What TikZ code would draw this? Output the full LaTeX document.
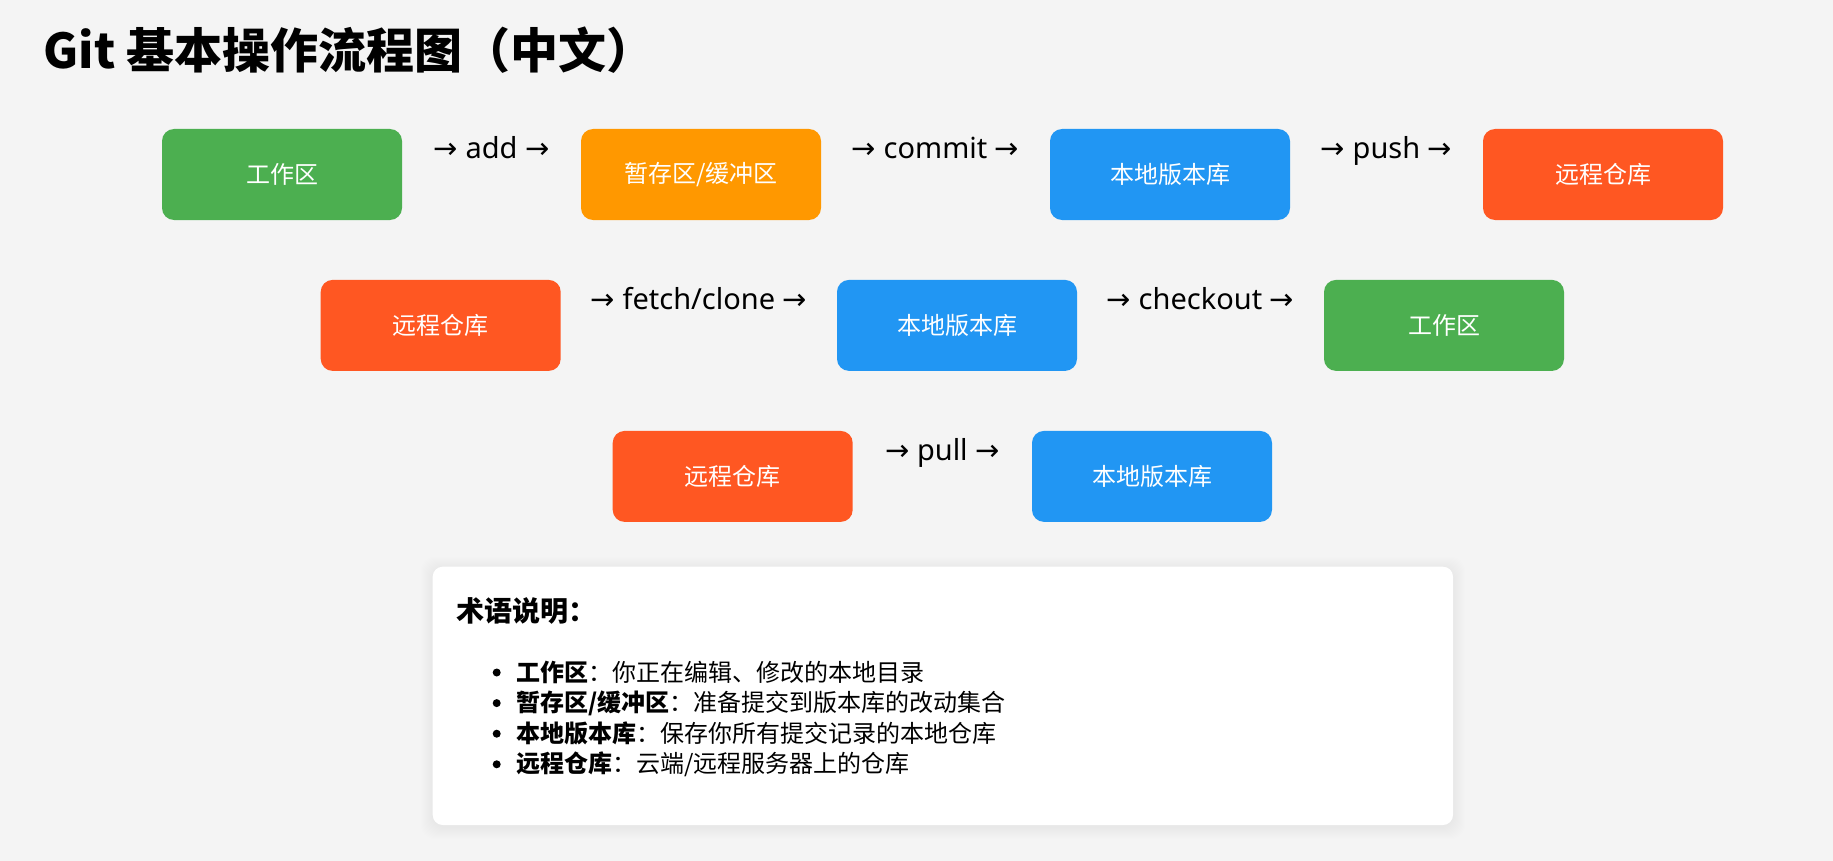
\documentclass[tikz,border=0pt]{standalone}
\usepackage{fontspec}
\setmainfont{Noto Sans CJK SC}
\newfontfamily\latfont{Noto Sans}
\newfontfamily\symfont{DejaVu Sans}
\usepackage{xcolor}
\usetikzlibrary{calc}
\definecolor{pagebg}{HTML}{F4F4F4}
\definecolor{wdgreen}{HTML}{4CAF50}
\definecolor{stgorange}{HTML}{FF9800}
\definecolor{localblue}{HTML}{2196F3}
\definecolor{remotered}{HTML}{FF5722}
\newcommand{\opto}{{\symfont →}}
\tikzset{stage/.style={rounded corners=12pt, minimum width=240pt, minimum height=91pt, inner sep=0pt, text=white, font=\fontsize{24}{29}\selectfont},
  op/.style={anchor=base, text=black, font=\latfont\fontsize{29}{35}\selectfont},
  term/.style={anchor=base west, text=black, font=\fontsize{24}{30}\selectfont}}

\begin{document}
\begin{tikzpicture}[x=1pt,y=-1pt]
		\fill[pagebg] (0,0) rectangle (1833,861);
		\useasboundingbox (0,0) rectangle (1833,861);
		\node[anchor=base west, font=\fontsize{48}{58}\selectfont\bfseries] (title) at (40,68.3) {Git 基本操作流程图（中文）};
		% row 1: add, commit, push
		\node[stage, fill=wdgreen] (wd1) at (282,174.5) {工作区};
		\node[stage, fill=stgorange] (stg1) at (701,174.5) {暂存区/缓冲区};
		\node[stage, fill=localblue] (lr1) at (1170,174.5) {本地版本库};
		\node[stage, fill=remotered] (rr1) at (1603,174.5) {远程仓库};
		\node[op] (add) at ($(wd1.north east)!.5!(stg1.north west)+(0,29.3)$) {\opto{} add \opto};
		\node[op] (commit) at ($(stg1.north east)!.5!(lr1.north west)+(0,29.3)$) {\opto{} commit \opto};
		\node[op] (push) at ($(lr1.north east)!.5!(rr1.north west)+(0,29.3)$) {\opto{} push \opto};
		% row 2: fetch/clone, checkout
		\node[stage, fill=remotered] (rr2) at (440.7,325.4) {远程仓库};
		\node[stage, fill=localblue] (lr2) at (957,325.4) {本地版本库};
		\node[stage, fill=wdgreen] (wd2) at (1444,325.4) {工作区};
		\node[op] (fetch) at ($(rr2.north east)!.5!(lr2.north west)+(0,29.3)$) {\opto{} fetch/clone \opto};
		\node[op] (checkout) at ($(lr2.north east)!.5!(wd2.north west)+(0,29.3)$) {\opto{} checkout \opto};
		% row 3: pull
		\node[stage, fill=remotered] (rr3) at (732.7,476.4) {远程仓库};
		\node[stage, fill=localblue] (lr3) at (1152,476.4) {本地版本库};
		\node[op] (pull) at ($(rr3.north east)!.5!(lr3.north west)+(0,29.3)$) {\opto{} pull \opto};
		% legend
		\foreach \s in {1,...,12}
			\fill[black, opacity=.005, rounded corners=14pt] (432.7-\s,568.7-\s) rectangle (1453+\s,827+\s);
		\fill[white, rounded corners=10pt] (432.7,566.7) rectangle (1453,825);
		\node[anchor=base west, font=\fontsize{28}{34}\selectfont\bfseries] (legtitle) at (453,621.5) {术语说明：};
		\fill (496.7,672.5) circle (4pt);
		\fill (496.7,703.1) circle (4pt);
		\fill (496.7,733.7) circle (4pt);
		\fill (496.7,764.3) circle (4pt);
		\node[term] (it1) at (513,681) {\textbf{工作区}：你正在编辑、修改的本地目录};
		\node[term] (it2) at (513,711.6) {\textbf{暂存区/缓冲区}：准备提交到版本库的改动集合};
		\node[term] (it3) at (513,742.2) {\textbf{本地版本库}：保存你所有提交记录的本地仓库};
		\node[term] (it4) at (513,772.8) {\textbf{远程仓库}：云端/远程服务器上的仓库};
\end{tikzpicture}
\end{document}
